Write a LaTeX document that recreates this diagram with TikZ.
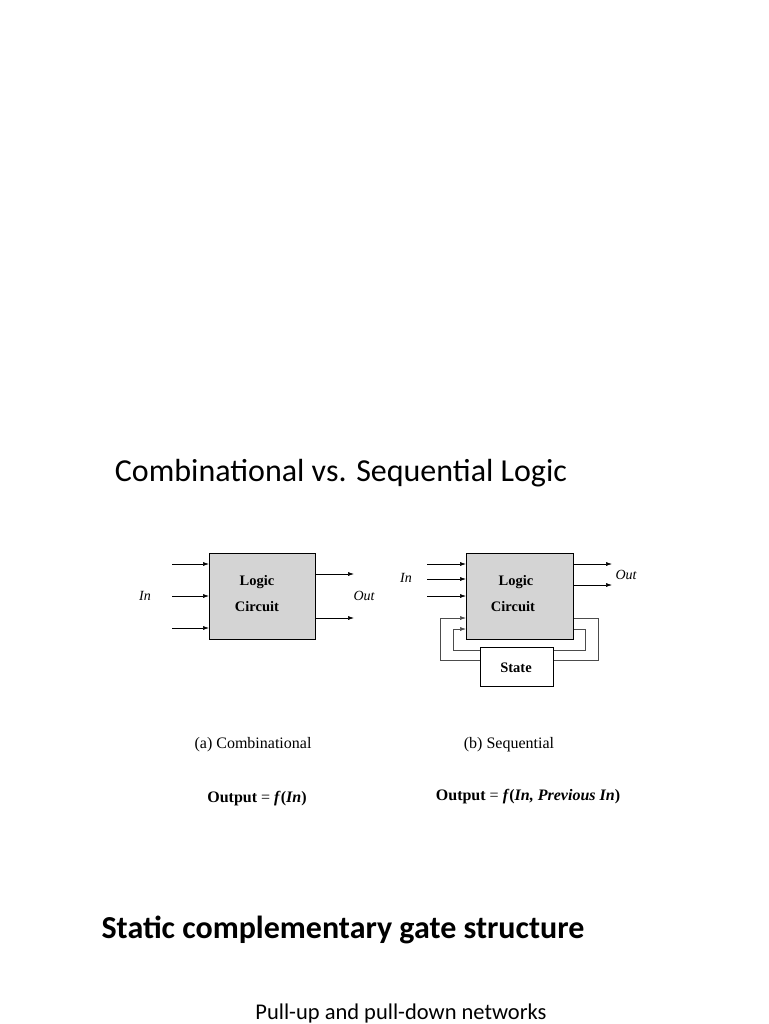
\documentclass[tikz,border=0pt]{standalone}
\usepackage{fontspec}
\newfontfamily\calfam{Carlito}
\setmainfont{Liberation Serif}
\usetikzlibrary{arrows.meta}
\begin{document}
\begin{tikzpicture}[x=1pt,y=-1pt,
 lc/.style={draw=black,fill=black!17,line width=0.8pt},
 sb/.style={draw=black,fill=white,line width=1pt},
 arr/.style={-{Latex[length=6pt,width=4pt]},line width=0.6pt},
 ln/.style={line width=0.6pt,draw=black!70},
 lbl/.style={font=\fontsize{14}{16}\selectfont\itshape},
 bx/.style={font=\fontsize{14.5}{17}\selectfont\bfseries}]
\useasboundingbox[fill=white] (0,0) rectangle (768,1024);
\node[font=\calfam\fontsize{32}{38}\selectfont] (t1) at (341,473) {Combinational vs. Sequential Logic};
% combinational
\node[lc,minimum width=106pt,minimum height=86pt,anchor=north west] (A) at (209,553) {};
\node[bx] (al) at (257,582) {Logic};
\node[bx] (ac) at (257,607) {Circuit};
\coordinate (ai1) at (172,564); \coordinate (ai2) at (172,596); \coordinate (ai3) at (172,628);
\draw[arr] (ai1) -- (A.west |- ai1);
\draw[arr] (ai2) -- (A.west |- ai2);
\draw[arr] (ai3) -- (A.west |- ai3);
\coordinate (ao1) at (354,574); \coordinate (ao2) at (354,618);
\draw[arr] (A.east |- ao1) -- (ao1);
\draw[arr] (A.east |- ao2) -- (ao2);
\node[lbl] (ain) at (145,596) {In};
\node[lbl] (aout) at (364,596) {Out};
% sequential
\node[lc,minimum width=107pt,minimum height=86pt,anchor=north west] (B) at (466,553) {};
\node[bx] (bl) at (516,582) {Logic};
\node[bx] (bc) at (513,607) {Circuit};
\node[sb,minimum width=73pt,minimum height=39pt,anchor=north west] (S) at (480,647) {};
\node[bx] (sl) at (516,668) {State};
\coordinate (bi1) at (427,564); \coordinate (bi2) at (427,579); \coordinate (bi3) at (427,596);
\draw[arr] (bi1) -- (B.west |- bi1);
\draw[arr] (bi2) -- (B.west |- bi2);
\draw[arr] (bi3) -- (B.west |- bi3);
\coordinate (bo1) at (612,564); \coordinate (bo2) at (612,585);
\draw[arr] (B.east |- bo1) -- (bo1);
\draw[arr] (B.east |- bo2) -- (bo2);
\draw[ln] (B.east |- 0,618) -- (598,618) -- (598,660) -- (S.east |- 0,660);
\draw[ln] (B.east |- 0,629) -- (585,629) -- (585,650) -- (S.east |- 0,650);
\draw[ln,arr] (S.west |- 0,660) -- (440,660) -- (440,618) -- (B.west |- 0,618);
\draw[ln,arr] (S.west |- 0,650) -- (453,650) -- (453,629) -- (B.west |- 0,629);
\node[lbl] (bin) at (406,578) {In};
\node[lbl] (bout) at (626,575) {Out};
% captions
\node[font=\fontsize{16}{18}\selectfont] (ca) at (253,745) {(a) Combinational};
\node[font=\fontsize{16}{18}\selectfont] (cb) at (509,745) {(b) Sequential};
\node[font=\fontsize{16}{18}\selectfont] (fa) at (257,799) {\textbf{Output} = \textbf{\textit{f}(\textit{In})}};
\node[font=\fontsize{16}{18}\selectfont] (fb) at (528,797) {\textbf{Output} = \textbf{\textit{f}(\textit{In, Previous In})}};
\node[font=\calfam\bfseries\fontsize{32}{38}\selectfont] (t2) at (343,930) {Static complementary gate structure};
\node[font=\calfam\fontsize{22.5}{26}\selectfont] (t3) at (401,1013) {Pull-up and pull-down networks};
\end{tikzpicture}
\end{document}
